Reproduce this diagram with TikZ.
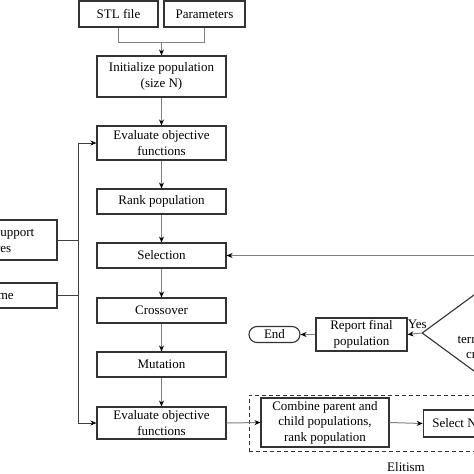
\documentclass[tikz,border=0pt]{standalone}
\usepackage{fontspec}
\setmainfont{Liberation Serif}
\usetikzlibrary{shapes.geometric,shapes.misc,arrows.meta}
\tikzset{
  txt/.style={font=\fontsize{13}{15.5}\selectfont, align=center},
  box/.style={txt, draw=black!80, line width=1.1pt, inner sep=0pt, rectangle},
  term/.style={txt, draw=black!80, line width=1.1pt, inner sep=0pt, rounded rectangle},
  line/.style={draw=black!50, line width=1pt},
  darkline/.style={draw=black!75, line width=1pt},
  arrow/.style={line, -{Stealth[length=6pt,width=5pt,color=black]}},
  darkarrow/.style={darkline, -{Stealth[length=6pt,width=5pt,color=black]}},
  dia/.style={draw=black!80, line width=1.1pt, diamond, aspect=1.36, inner sep=0pt, minimum width=136pt, minimum height=100pt},
  grp/.style={draw=black!80, line width=1pt, dash pattern=on 4pt off 3pt}
}
\begin{document}
\begin{tikzpicture}[x=1pt,y=-1pt]
\useasboundingbox (0,0) rectangle (474,474);
\clip (0,0) rectangle (474,474);
\fill[white] (0,0) rectangle (474,474);
% top inputs
\node[box, minimum width=79pt, minimum height=26pt] (stl) at (118.5,14) {STL file};
\node[box, minimum width=81pt, minimum height=26pt] (par) at (204.5,14) {Parameters};
\coordinate (j) at (161.5,42);
\node[box, minimum width=129pt, minimum height=41pt] (init) at (161.5,76.5) {Initialize population\\(size N)};
\node[box, minimum width=129pt, minimum height=34pt] (ev1) at (161.5,143) {Evaluate objective\\functions};
\node[box, minimum width=129pt, minimum height=25pt] (rank) at (161.5,201.5) {Rank population};
\node[box, minimum width=129pt, minimum height=25pt] (sel) at (161.5,255.5) {Selection};
\node[box, minimum width=129pt, minimum height=25pt] (cro) at (161.5,310.5) {Crossover};
\node[box, minimum width=129pt, minimum height=25pt] (mut) at (161.5,364.5) {Mutation};
\node[box, minimum width=129pt, minimum height=32pt] (ev2) at (161.5,423) {Evaluate objective\\functions};
% left objective boxes
\node[box, minimum width=142pt, minimum height=40pt] (obA) at (-14,240) {Volume of support\\structures};
\node[box, minimum width=142pt, minimum height=25pt] (obB) at (-14,295.5) {Build time};
\coordinate (ba) at (78,240);
\coordinate (bb) at (78,295.5);
% right part
\node[dia] (dec) at (490,333) {};
\node[txt] (dect) at (487.5,347) {termination\\criteria?};
\node[box, minimum width=91pt, minimum height=33pt] (rep) at (361.5,334.5) {Report final\\population};
\node[term, minimum width=51pt, minimum height=16pt] (end) at (274.5,334.5) {End};
% elitism group
\node[grp, minimum width=320pt, minimum height=56pt, inner sep=0pt] (eli) at (409,423) {};
\node[box, minimum width=128pt, minimum height=49pt] (comb) at (325,422.5) {Combine parent and\\child populations,\\rank population};
\node[box, minimum height=27pt, inner xsep=9pt] (seln) at (454.5,423.5) {Select N};
\node[txt] (elit) at (406,467) {Elitism};
% connectors
\draw[line] (stl.south) |- (j);
\draw[line] (par.south) |- (j);
\draw[arrow] (j) -- (init.north);
\draw[arrow] (init) -- (ev1);
\draw[arrow] (ev1) -- (rank);
\draw[arrow] (rank) -- (sel);
\draw[arrow] (sel) -- (cro);
\draw[arrow] (cro) -- (mut);
\draw[arrow] (mut) -- (ev2);
\draw[darkline] (obA.east) -- (ba);
\draw[darkline] (obB.east) -- (bb);
\draw[darkline] (ba) -- (bb);
\draw[darkarrow] (ba) |- (ev1.west);
\draw[darkarrow] (bb) |- (ev2.west);
\draw[arrow] (dec.north) |- (sel.east);
\draw[arrow] (dec.west) -- node[txt, above, pos=0.3, yshift=1pt] {Yes} (rep.east);
\draw[arrow] (rep.west) -- (end.east);
\draw[arrow] (ev2.east) -- (comb.west);
\draw[arrow] (comb.east) -- (seln.west);
\end{tikzpicture}
\end{document}
